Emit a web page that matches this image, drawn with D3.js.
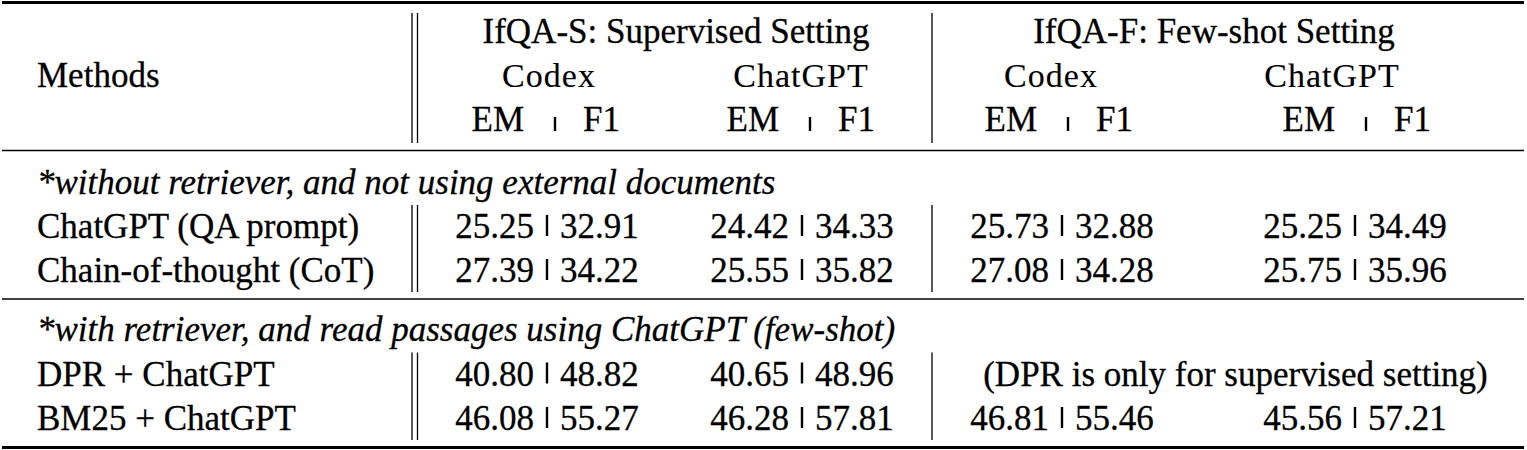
<!DOCTYPE html>
<html>
<head>
<meta charset="utf-8">
<script src="https://cdn.jsdelivr.net/npm/d3@7"></script>
<style>
    html, body { margin: 0; background: #fff; }
    text { font-family: "Liberation Serif", "Times New Roman", serif; fill: #000; stroke: #000; stroke-width: 0.3; }
</style>
</head>
<body>
<div id="chart"></div>
<script>
// Table content
const settings = ["IfQA-S: Supervised Setting", "IfQA-F: Few-shot Setting"];
const models = ["Codex", "ChatGPT"];
const metrics = ["EM", "F1"];
const columns = ["S-Codex", "S-ChatGPT", "F-Codex", "F-ChatGPT"];
const groups = [
    "*without retriever, and not using external documents",
    "*with retriever, and read passages using ChatGPT (few-shot)"
];
const methods = ["ChatGPT (QA prompt)", "Chain-of-thought (CoT)", "DPR + ChatGPT", "BM25 + ChatGPT"];
const methodGroup = [0, 0, 1, 1];
const emValues = [
    [25.25, 24.42, 25.73, 25.25],
    [27.39, 25.55, 27.08, 25.75],
    [40.80, 40.65, null, null],
    [46.08, 46.28, 46.81, 45.56]
];
const f1Values = [
    [32.91, 34.33, 32.88, 34.49],
    [34.22, 35.82, 34.28, 35.96],
    [48.82, 48.96, null, null],
    [55.27, 57.81, 55.46, 57.21]
];
const dprNote = "(DPR is only for supervised setting)";

const width = 1527, height = 450;
const fontSize = 35;

const svg = d3.select("#chart")
    .append("svg")
    .attr("width", width)
    .attr("height", height);

// Horizontal layout
const left = 37;
const ruleX = [2, 1524];
const settingX = d3.scaleOrdinal().domain(settings).range([676, 1214]);
const modelX = d3.scaleOrdinal().domain(columns).range([549, 801, 1051, 1332]);
const headSepX = d3.scaleOrdinal().domain(columns).range([555, 810, 1068, 1366]);
const cellX = d3.scaleOrdinal().domain(columns).range([547, 802, 1062, 1355]);
const doubleBarX = [412, 417.5];
const singleBarX = 932;

// Vertical layout
const headY = d3.scaleLinear().domain([0, 2]).range([43, 131]);
const groupY = [
    d3.scaleLinear().domain([0, 2]).range([194, 282]),
    d3.scaleLinear().domain([0, 2]).range([341, 430])
];
const rowY = i => {
    const g = methodGroup[i];
    const pos = methods.filter((m, j) => methodGroup[j] === g).indexOf(methods[i]) + 1;
    return groupY[g](pos);
};

// Rules
const rules = [
    { y: 2.5, w: 3 },
    { y: 150.5, w: 1.5 },
    { y: 299, w: 1.5 },
    { y: 447.5, w: 3 }
];
svg.selectAll(".rule")
    .data(rules)
    .enter()
    .append("line")
    .attr("class", "rule")
    .attr("x1", ruleX[0]).attr("x2", ruleX[1])
    .attr("y1", d => d.y).attr("y2", d => d.y)
    .attr("stroke", "#000")
    .attr("stroke-width", d => d.w);

// Vertical separators (one segment for the header and one per row group)
const segments = [
    [headY(0) - 30, headY(2) + 12],
    [groupY[0](1) - 33, groupY[0](2) + 10],
    [groupY[1](1) - 33, groupY[1](2) + 10]
];
const barXs = [...doubleBarX, singleBarX];
segments.forEach(s => {
    svg.selectAll(null)
        .data(barXs)
        .enter()
        .append("line")
        .attr("x1", d => d).attr("x2", d => d)
        .attr("y1", s[0]).attr("y2", s[1])
        .attr("stroke", "#000")
        .attr("stroke-width", 1.3);
});

// Header
svg.append("text")
    .attr("x", left)
    .attr("y", headY(1))
    .attr("font-size", fontSize)
    .text("Methods");

svg.selectAll(".setting")
    .data(settings)
    .enter()
    .append("text")
    .attr("class", "setting")
    .attr("x", d => settingX(d))
    .attr("y", headY(0))
    .attr("text-anchor", "middle")
    .attr("font-size", fontSize)
    .text(d => d);

svg.selectAll(".model")
    .data(columns)
    .enter()
    .append("text")
    .attr("class", "model")
    .attr("x", d => modelX(d))
    .attr("y", headY(1))
    .attr("text-anchor", "middle")
    .attr("font-size", 34)
    .attr("letter-spacing", 1)
    .style("stroke-width", 0.1)
    .text((d, i) => models[i % 2]);

const metricHead = svg.selectAll(".metric")
    .data(columns)
    .enter()
    .append("g")
    .attr("class", "metric");

metricHead.append("text")
    .attr("x", d => headSepX(d) - 31)
    .attr("y", headY(2))
    .attr("text-anchor", "end")
    .attr("font-size", fontSize)
    .text(metrics[0]);

// short separator between EM and F1
metricHead.append("line")
    .attr("x1", d => headSepX(d)).attr("x2", d => headSepX(d))
    .attr("y1", headY(2) - 14).attr("y2", headY(2))
    .attr("stroke", "#000")
    .attr("stroke-width", 2.4);

metricHead.append("text")
    .attr("x", d => headSepX(d) + 28)
    .attr("y", headY(2))
    .attr("text-anchor", "start")
    .attr("font-size", fontSize)
    .text(metrics[1]);

// Group captions
svg.selectAll(".group")
    .data(groups)
    .enter()
    .append("text")
    .attr("class", "group")
    .attr("x", left)
    .attr("y", (d, i) => groupY[i](0))
    .attr("font-size", fontSize)
    .attr("font-style", "italic")
    .text(d => d);

// Method names
svg.selectAll(".method")
    .data(methods)
    .enter()
    .append("text")
    .attr("class", "method")
    .attr("x", left)
    .attr("y", (d, i) => rowY(i))
    .attr("font-size", fontSize)
    .text(d => d);

// Cells
const cells = [];
methods.forEach((m, i) => {
    columns.forEach((c, j) => {
        if (emValues[i][j] != null) {
            cells.push({ row: i, col: c, em: emValues[i][j], f1: f1Values[i][j] });
        }
    });
});

const cell = svg.selectAll(".cell")
    .data(cells)
    .enter()
    .append("g")
    .attr("class", "cell");

cell.append("text")
    .attr("x", d => cellX(d.col) - 13)
    .attr("y", d => rowY(d.row))
    .attr("text-anchor", "end")
    .attr("font-size", fontSize)
    .text(d => d.em.toFixed(2));

cell.append("line")
    .attr("x1", d => cellX(d.col)).attr("x2", d => cellX(d.col))
    .attr("y1", d => rowY(d.row) - 23).attr("y2", d => rowY(d.row) - 2)
    .attr("stroke", "#000")
    .attr("stroke-width", 2.4);

cell.append("text")
    .attr("x", d => cellX(d.col) + 13)
    .attr("y", d => rowY(d.row))
    .attr("text-anchor", "start")
    .attr("font-size", fontSize)
    .text(d => d.f1.toFixed(2));

// Spanning note in the DPR row, few-shot columns
const dprRow = methods.indexOf("DPR + ChatGPT");
svg.append("text")
    .attr("x", (cellX("F-Codex") + cellX("F-ChatGPT")) / 2 + 27)
    .attr("y", rowY(dprRow))
    .attr("text-anchor", "middle")
    .attr("font-size", fontSize)
    .text(dprNote);
</script>
</body>
</html>
